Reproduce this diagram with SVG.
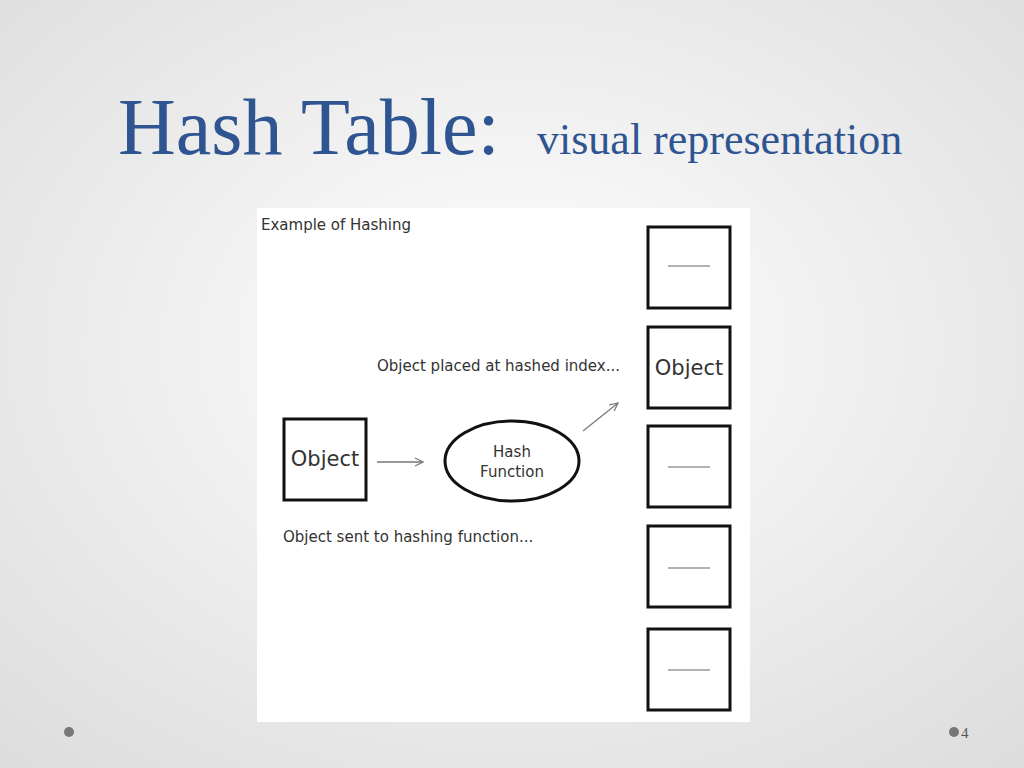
<svg xmlns="http://www.w3.org/2000/svg" width="1024" height="768" viewBox="0 0 1024 768">
<defs>
<radialGradient id="bg" cx="0.5" cy="0.45" r="0.75"><stop offset="0" stop-color="#ffffff"/><stop offset="1" stop-color="#dcdcdc"/></radialGradient>
<marker id="ah" viewBox="0 0 10 10" refX="9" refY="5" markerWidth="10" markerHeight="10" markerUnits="userSpaceOnUse" orient="auto"><path d="M1,1 L9,5 L1,9" fill="none" stroke="#777" stroke-width="1.2"/></marker>
</defs>
<style>
.box{fill:#fff;stroke:#111;stroke-width:3}
.dash{stroke:#999;stroke-width:1.5}
.t{font-family:"DejaVu Sans",sans-serif;fill:#333}
.h{font-family:"Liberation Serif",serif;fill:#2e5491}
</style>
<rect width="1024" height="768" fill="url(#bg)"/>
<text class="h" x="118" y="154" font-size="80">Hash Table:</text>
<text class="h" x="537" y="154" font-size="44">visual representation</text>
<rect x="257" y="208" width="493" height="514" fill="#fff"/>
<text class="t" x="261" y="230" font-size="15">Example of Hashing</text>
<g id="slot1"><rect class="box" x="648" y="227" width="82" height="81"/><line class="dash" x1="668" y1="266" x2="710" y2="266"/></g>
<g id="slot2"><rect class="box" x="648" y="327" width="82" height="81"/><text class="t" x="689" y="375" font-size="21" text-anchor="middle" fill="#222">Object</text></g>
<g id="slot3"><rect class="box" x="648" y="426" width="82" height="81"/><line class="dash" x1="668" y1="467" x2="710" y2="467"/></g>
<g id="slot4"><rect class="box" x="648" y="526" width="82" height="81"/><line class="dash" x1="668" y1="568" x2="710" y2="568"/></g>
<g id="slot5"><rect class="box" x="648" y="629" width="82" height="81"/><line class="dash" x1="668" y1="670" x2="710" y2="670"/></g>
<g id="object"><rect class="box" x="284" y="419" width="82" height="81"/><text class="t" x="325" y="466" font-size="21" text-anchor="middle" fill="#222">Object</text></g>
<g id="hash"><ellipse cx="512" cy="461" rx="67" ry="40" fill="#fff" stroke="#111" stroke-width="3"/><text class="t" x="512" y="457" font-size="15" text-anchor="middle">Hash</text><text class="t" x="512" y="477" font-size="15" text-anchor="middle">Function</text></g>
<text class="t" x="377" y="371" font-size="15">Object placed at hashed index...</text>
<text class="t" x="283" y="542" font-size="15">Object sent to hashing function...</text>
<g id="connectors" stroke="#777" stroke-width="1.3" fill="none">
<line x1="377" y1="462" x2="423" y2="462" marker-end="url(#ah)"/>
<line x1="583" y1="431" x2="618" y2="403" marker-end="url(#ah)"/>
</g>
<circle cx="69" cy="732" r="5" fill="#777"/>
<circle cx="954" cy="732" r="5" fill="#777"/>
<text x="961" y="738" font-family="Liberation Serif,serif" font-size="15" fill="#555">4</text>
</svg>
